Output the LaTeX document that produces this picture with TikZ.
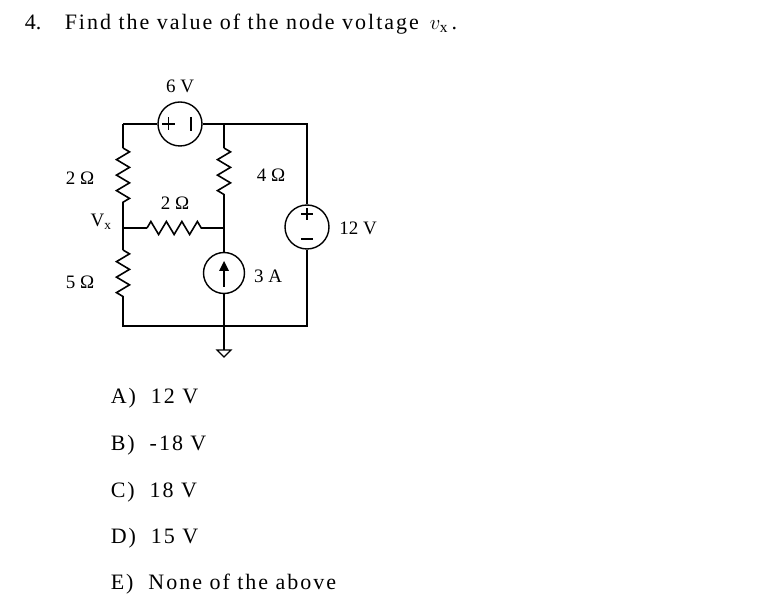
\documentclass[tikz,border=0pt]{standalone}
\usepackage{fontspec}
\setmainfont{Liberation Serif}
\newfontfamily\spacedfont[LetterSpace=9]{Liberation Serif}
\usetikzlibrary{decorations.pathmorphing}
\begin{document}
\begin{tikzpicture}[x=1pt,y=-1pt,line width=1.6pt,
  res/.style={decorate,decoration={zigzag,amplitude=6.5pt,segment length=15.5pt}},
  src/.style={circle,draw,line width=1.4pt,minimum size=44pt,inner sep=0pt},
  lbl/.style={font=\fontsize{19}{19}\selectfont,inner sep=0pt},
  ans/.style={font=\fontsize{22}{22}\spacedfont,anchor=west,inner sep=0pt}]
\useasboundingbox (0,0) rectangle (780,601);
\node[anchor=west,font=\fontsize{22}{22}\selectfont,inner sep=0pt] (num) at (24,22) {4.};
\node[anchor=west,font=\fontsize{22}{22}\spacedfont,inner sep=0pt] (q) at (64,24) {Find the value of the node voltage \,$v_{\mathrm{x}}$\,.};
% coordinates
\coordinate (TL) at (123,124); \coordinate (TM) at (224,124); \coordinate (TR) at (307,124);
\coordinate (ML) at (123,228); \coordinate (MM) at (224,228);
\coordinate (BL) at (123,326); \coordinate (BM) at (224,326); \coordinate (BR) at (307,326);
\coordinate (G) at (224,350);
\node[src] (s6) at (180,124) {};
\node[src] (s12) at (307,227) {};
\node[src,minimum size=41pt] (s3) at (224,273) {};
% wires
\draw (TL) -- (s6.west); \draw (s6.east) -- (TR) -- (s12.north);
\draw (s12.south) -- (BR) -- (BL) -- (123,303);
\draw (TL) -- (123,148); \draw[res] (123,148) -- (123,203); \draw (123,203) -- (ML) -- (123,250);
\draw[res] (123,250) -- (123,303);
\draw (TM) -- (224,148); \draw[res] (224,148) -- (224,202); \draw (224,202) -- (MM) -- (s3.north);
\draw (ML) -- (147,228); \draw[res] (147,228) -- (202,228); \draw (202,228) -- (MM);
\draw (s3.south) -- (BM) -- (G);
\draw[line width=1.2pt] (217,350) -- (231,350) -- (224,357) -- cycle;
% source symbols
\draw[line width=1.4pt] (162,124) -- (175,124) (168.5,117.5) -- (168.5,130.5);
\draw[line width=1.4pt] (191,117) -- (191,131);
\draw[line width=1.4pt] (301,214) -- (313,214) (307,208) -- (307,220) (301,239) -- (313,239);
\draw[line width=1.4pt] (224,287) -- (224,268);
\fill (224,261) -- (219,271) -- (229,271) -- cycle;
% labels
\node[lbl] (l6) at (180,86) {6 V};
\node[lbl] (l2a) at (80,178) {2 Ω};
\node[lbl] (l4) at (271,175) {4 Ω};
\node[lbl] (l2b) at (175,203) {2 Ω};
\node[lbl] (lvx) at (101,222) {V\textsubscript{x}};
\node[lbl] (l5) at (80,282) {5 Ω};
\node[lbl] (l3) at (268,276) {3 A};
\node[lbl] (l12) at (358,228) {12 V};
\node[ans] (a) at (110,398) {A)\ \ 12 V};
\node[ans] (b) at (110,445) {B)\ \ -18 V};
\node[ans] (c) at (110,492) {C)\ \ 18 V};
\node[ans] (d) at (110,538) {D)\ \ 15 V};
\node[ans] (e) at (110,584) {E)\ \ None of the above};
\end{tikzpicture}
\end{document}
